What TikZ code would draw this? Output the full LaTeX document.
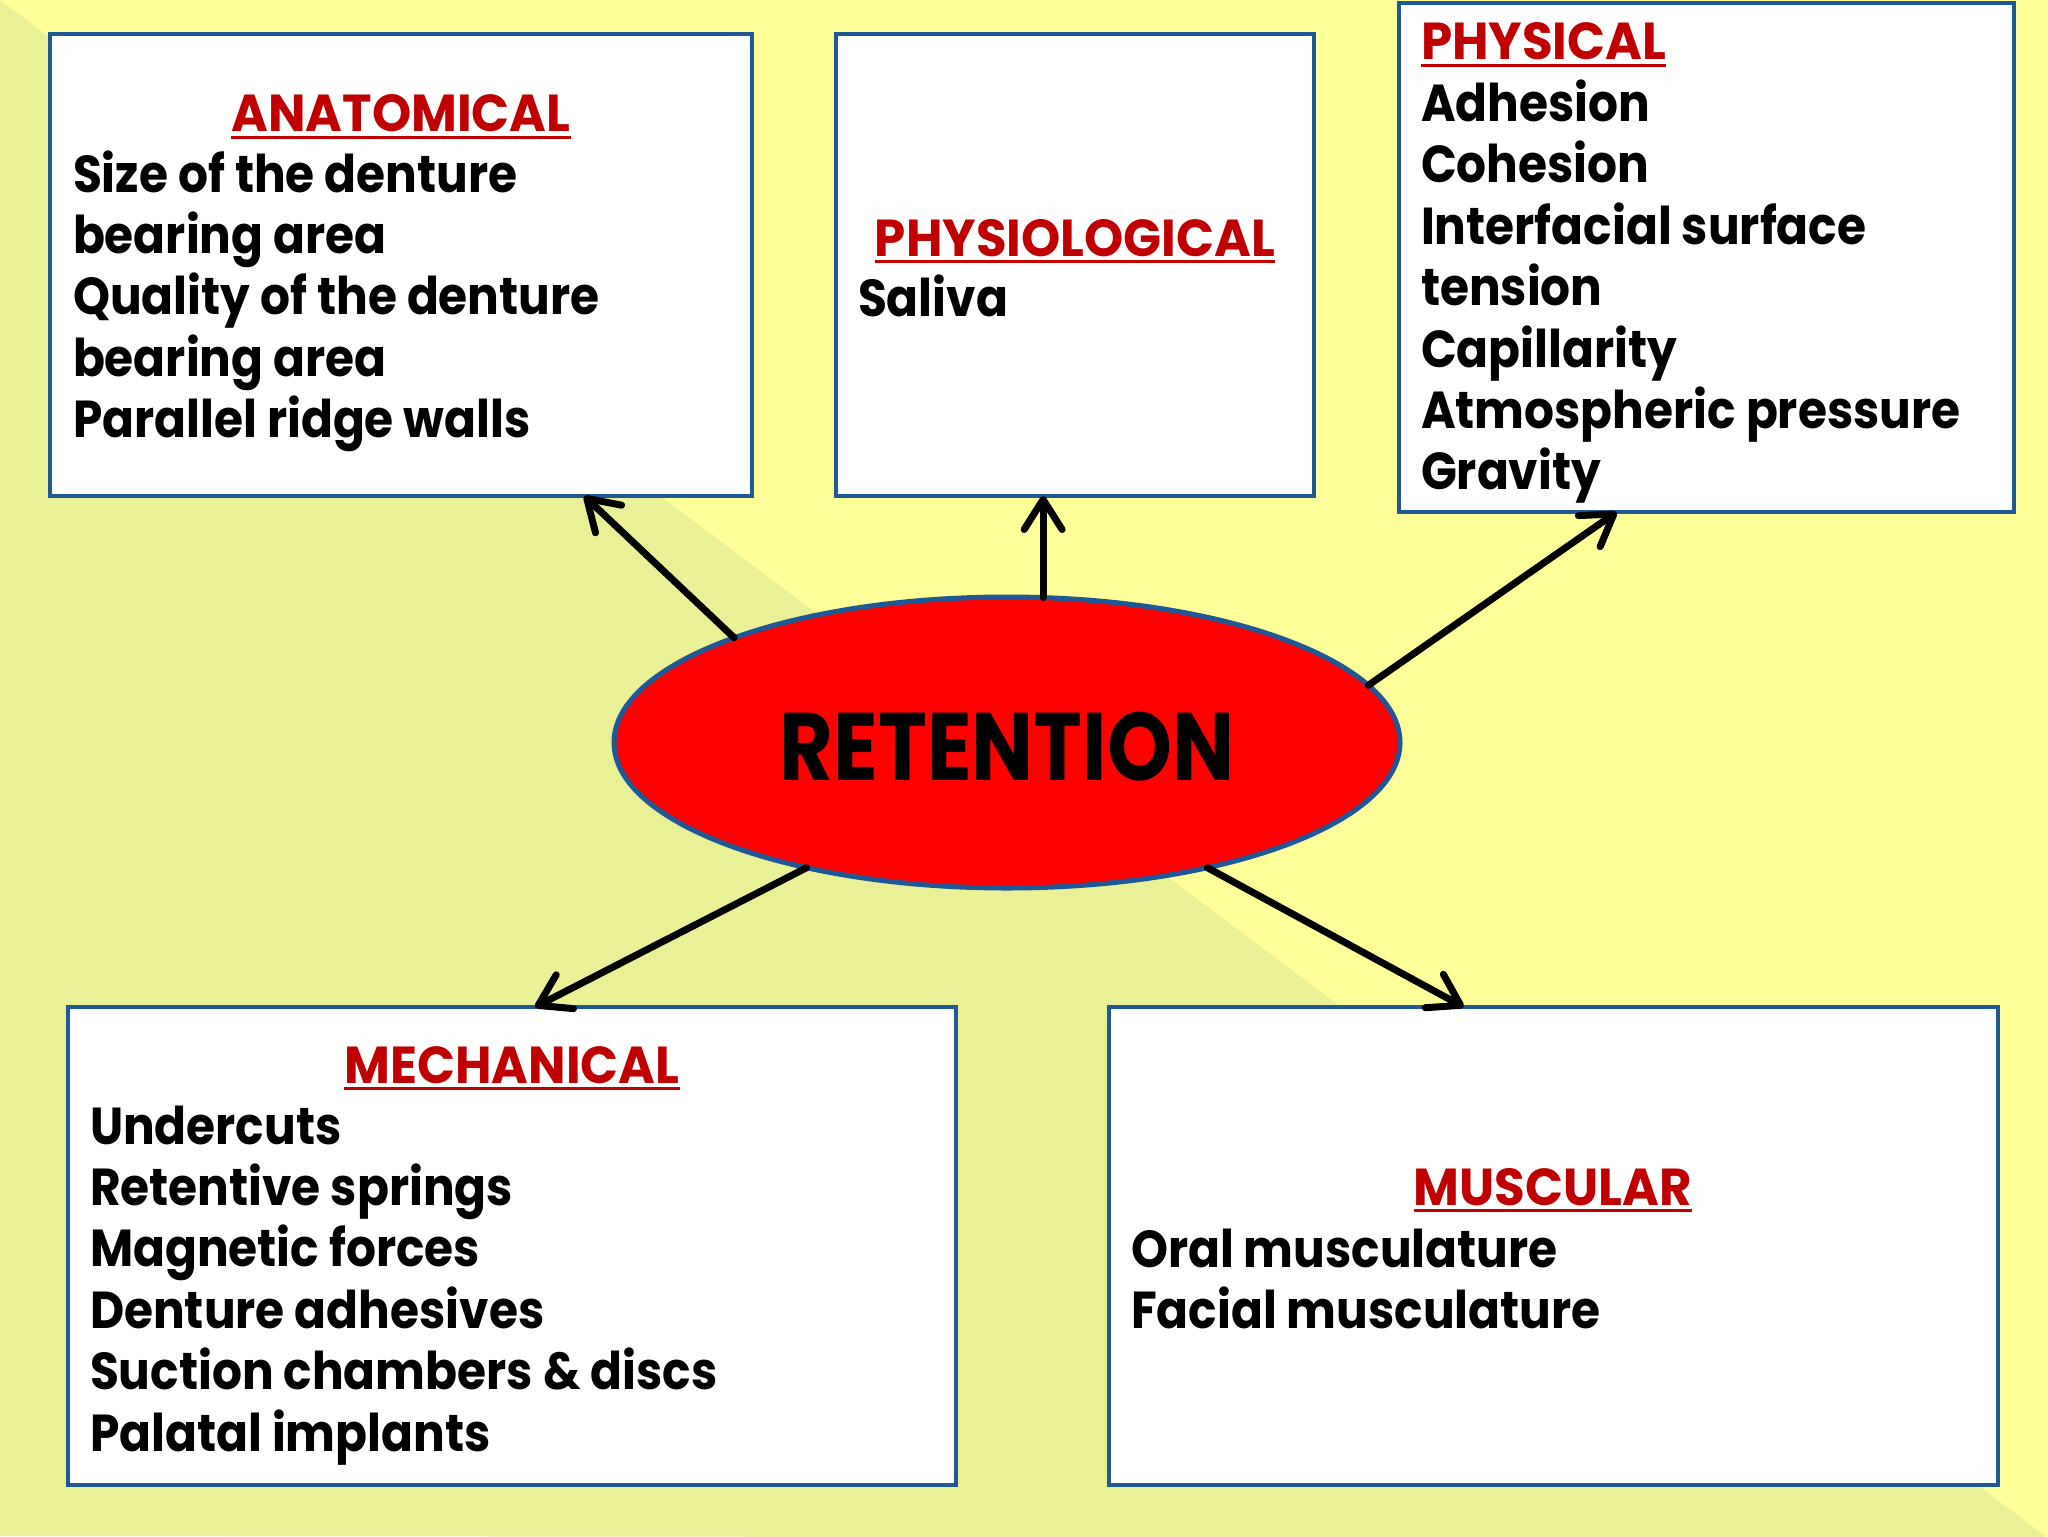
\documentclass[tikz,border=0pt]{standalone}
\usepackage{fontspec}
\setmainfont{Poppins}
\newfontfamily\bodyfont[FakeStretch=0.905]{Poppins}
\newfontfamily\titlefont[FakeStretch=0.96]{Poppins}
\newfontfamily\retfont[FakeStretch=0.86]{Poppins}
\usetikzlibrary{arrows.meta,shapes.geometric,calc,fit}
\definecolor{bgyellow}{RGB}{255,255,153}
\definecolor{bggreen}{RGB}{234,240,150}
\definecolor{boxblue}{RGB}{31,88,150}
\definecolor{titlered}{RGB}{192,0,0}
\definecolor{ellred}{RGB}{255,0,0}
\begin{document}
\begin{tikzpicture}[x=0.5pt,y=-0.5pt,
  box/.style={draw=boxblue, line width=2.3pt, fill=white, rectangle, inner sep=0pt, outer sep=0pt},
  body/.style={font=\bodyfont\fontsize{26}{30}\selectfont\bfseries, inner sep=0pt, outer sep=0pt, anchor=base west, text=black},
  title/.style={body, font=\titlefont\fontsize{26}{30}\selectfont\bfseries, text=titlered},
  uline/.style={draw=titlered, line width=1.6pt},
  conn/.style={line width=3.5pt, line cap=round, -{Straight Barb[length=15pt,width=19pt,line cap=round,line join=round]}},
]
\useasboundingbox (0,0) rectangle (2048,1536);
\fill[bgyellow] (0,0) rectangle (2048,1536);
\fill[bggreen] (0,0) -- (2048,1538) -- (0,1536) -- cycle;

% boxes
\coordinate (a1) at (50,34);   \coordinate (a2) at (752,496);
\coordinate (p1) at (836,34);  \coordinate (p2) at (1314,496);
\coordinate (f1) at (1399,3);  \coordinate (f2) at (2014,512);
\coordinate (m1) at (68,1007); \coordinate (m2) at (956,1485);
\coordinate (u1) at (1109,1007); \coordinate (u2) at (1998,1485);
\node[box, fit=(a1)(a2)] (anat) {};
\node[box, fit=(p1)(p2)] (physio) {};
\node[box, fit=(f1)(f2)] (phys) {};
\node[box, fit=(m1)(m2)] (mech) {};
\node[box, fit=(u1)(u2)] (musc) {};

% centre ellipse
\node[ellipse, draw=boxblue, fill=ellred, line width=2.5pt, inner sep=0pt, outer sep=0pt,
      minimum width=393pt, minimum height=145.5pt] (ret) at (1007,742.5) {};
\node[font=\retfont\fontsize{48}{50}\selectfont\bfseries, inner sep=0pt, anchor=base] (rettext) at (1007,780) {RETENTION};

% titles
\node[title, anchor=base] (tanat) at (401,132) {ANATOMICAL};
\node[title, anchor=base] (tphysio) at (1075,256) {PHYSIOLOGICAL};
\node[title] (tphys) at (1421,60) {PHYSICAL};
\node[title, anchor=base] (tmech) at (512,1083) {MECHANICAL};
\node[title, anchor=base] (tmusc) at (1553,1205) {MUSCULAR};
\foreach \t in {tanat,tphysio,tphys,tmech,tmusc}
  \draw[uline] ([yshift=-2.8pt]\t.base west) -- ([yshift=-2.8pt]\t.base east);

% body texts
\foreach \s [count=\i from 0] in {Size of the denture, bearing area, Quality of the denture, bearing area, Parallel ridge walls}
  \node[body] (anat-\i) at (73,192+61.4*\i) {\s};
\node[body] (physio-0) at (858,316) {Saliva};
\foreach \s [count=\i from 0] in {Adhesion, Cohesion, Interfacial surface, tension, Capillarity, Atmospheric pressure, Gravity}
  \node[body] (phys-\i) at (1421,121.5+61.4*\i) {\s};
\foreach \s [count=\i from 0] in {Undercuts, Retentive springs, Magnetic forces, Denture adhesives, {Suction chambers \& discs}, Palatal implants}
  \node[body] (mech-\i) at (90,1144+61.4*\i) {\s};
\foreach \s [count=\i from 0] in {Oral musculature, Facial musculature}
  \node[body] (musc-\i) at (1131,1267+61.4*\i) {\s};

% connectors
\draw[conn] (ret.159.7) -- ($(anat.south west)!0.761!(anat.south east)$);
\draw[conn] (ret.76.8) -- (ret.76.8 |- physio.south);
\draw[conn] (ret.9.14) -- ($(phys.south west)!0.354!(phys.south east)$);
\draw[conn] (ret.212.1) -- ($(mech.north west)!0.526!(mech.north east)$);
\draw[conn] (ret.328.2) -- ($(musc.north west)!0.399!(musc.north east)$);
\end{tikzpicture}
\end{document}
